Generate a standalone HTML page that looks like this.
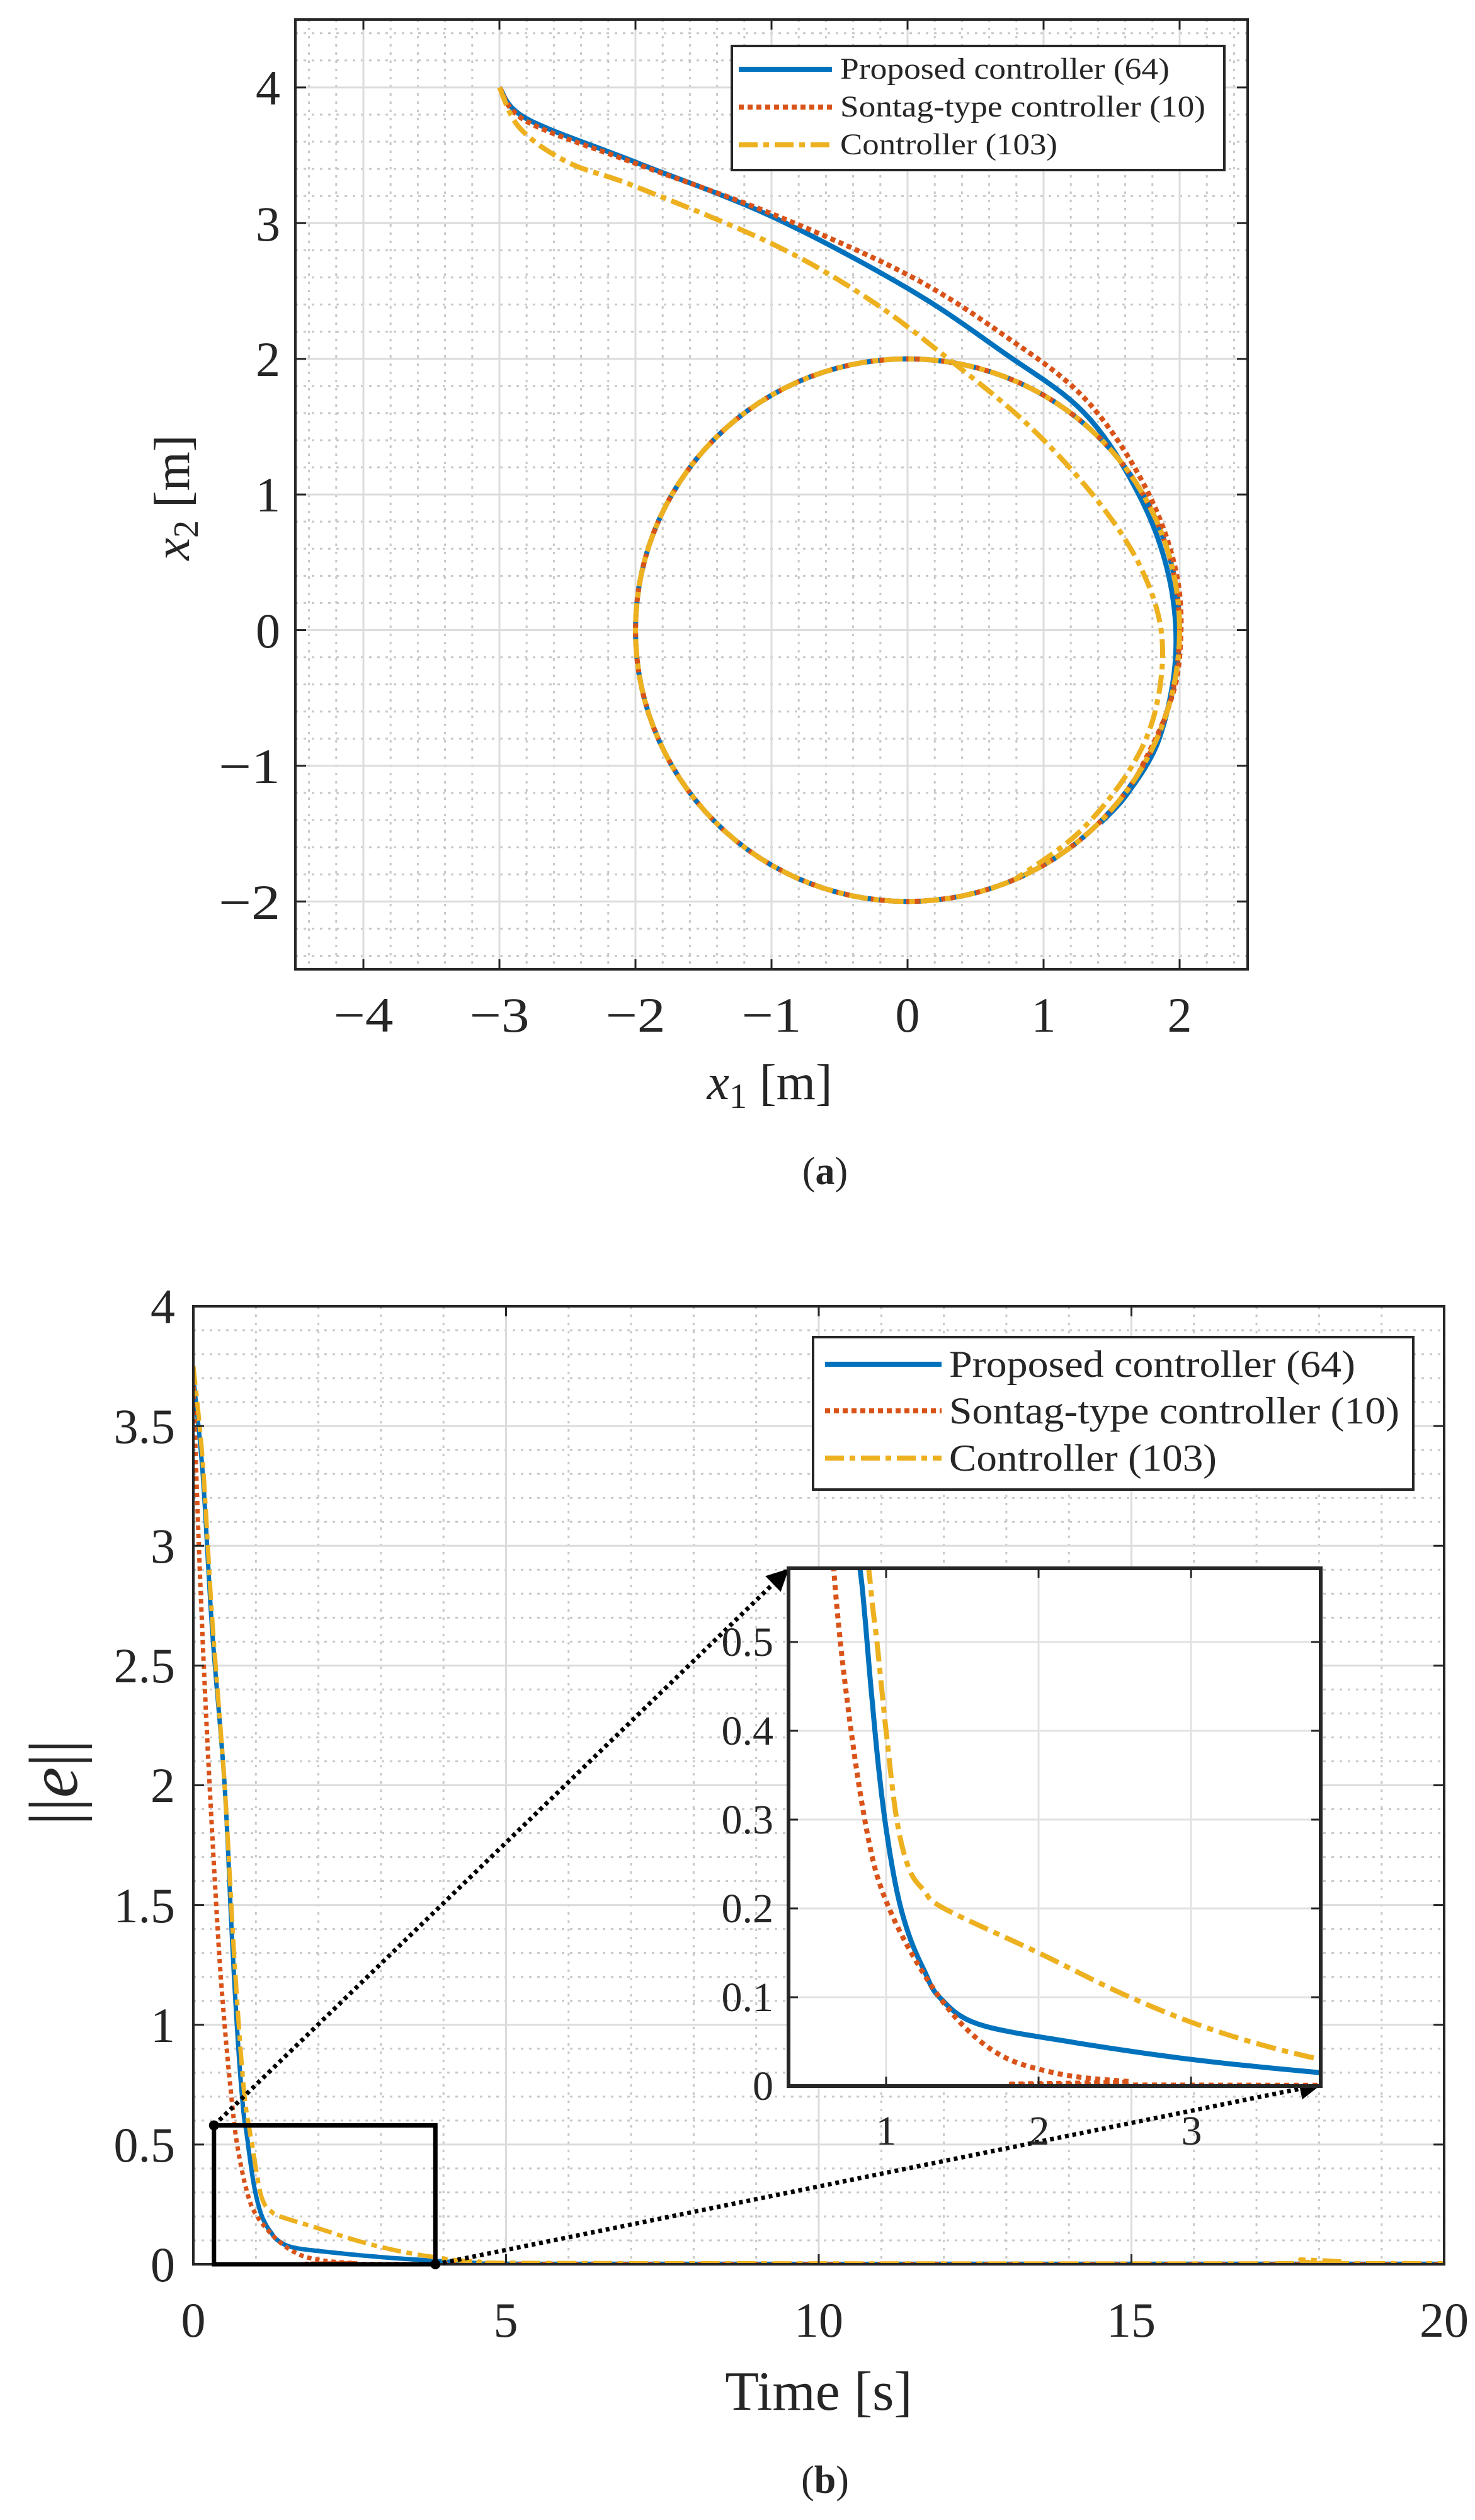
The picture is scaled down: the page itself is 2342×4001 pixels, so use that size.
<!DOCTYPE html>
<html><head><meta charset="utf-8"><style>html,body{margin:0;padding:0;background:#fff}svg{display:block}text{font-family:"Liberation Serif",serif;fill:#262626}</style></head>
<body>
<svg id="s" xmlns="http://www.w3.org/2000/svg" width="2342" height="4001" viewBox="0 0 2342 4001">
<rect width="2342" height="4001" fill="#fff"/>
<g id="g1"></g>
<g id="g2"></g>
<g font-size="78" text-anchor="middle">
<text x="577" y="1638" textLength="95" lengthAdjust="spacingAndGlyphs">−4</text>
<text x="793" y="1638" textLength="95" lengthAdjust="spacingAndGlyphs">−3</text>
<text x="1009" y="1638" textLength="95" lengthAdjust="spacingAndGlyphs">−2</text>
<text x="1225" y="1638" textLength="95" lengthAdjust="spacingAndGlyphs">−1</text>
<text x="1441" y="1638">0</text><text x="1657" y="1638">1</text><text x="1873" y="1638">2</text>
</g>
<g font-size="78" text-anchor="end">
<text x="445" y="166">4</text><text x="445" y="382">3</text><text x="445" y="597">2</text><text x="445" y="812">1</text><text x="445" y="1028">0</text>
<text x="445" y="1243" textLength="98" lengthAdjust="spacingAndGlyphs">−1</text>
<text x="445" y="1459" textLength="98" lengthAdjust="spacingAndGlyphs">−2</text>
</g>
<text x="1222" y="1745" font-size="80" text-anchor="middle" font-style="italic">x<tspan font-style="normal" font-size="56" dy="14">1</tspan><tspan font-style="normal" dy="-14"> [m]</tspan></text>
<text transform="translate(300,790) rotate(-90)" font-size="80" text-anchor="middle" font-style="italic">x<tspan font-style="normal" font-size="56" dy="14">2</tspan><tspan font-style="normal" dy="-14"> [m]</tspan></text>
<text x="1310" y="1880" font-size="62" text-anchor="middle">(<tspan font-weight="bold">a</tspan>)</text>
<g font-size="78" text-anchor="middle">
<text x="307" y="3710">0</text><text x="803" y="3710">5</text><text x="1300" y="3710">10</text><text x="1796" y="3710">15</text><text x="2293" y="3710">20</text>
</g>
<g font-size="78" text-anchor="end">
<text x="278" y="3622">0</text><text x="278" y="3432">0.5</text><text x="278" y="3242">1</text><text x="278" y="3052">1.5</text><text x="278" y="2861">2</text><text x="278" y="2671">2.5</text><text x="278" y="2481">3</text><text x="278" y="2291">3.5</text><text x="278" y="2101">4</text>
</g>
<text x="1300" y="3826" font-size="88" text-anchor="middle">Time [s]</text>
<text transform="translate(122,2830) rotate(-90)" font-size="110" text-anchor="middle">||<tspan font-style="italic">e</tspan>||</text>
<text x="1310" y="3958" font-size="62" text-anchor="middle">(<tspan font-weight="bold">b</tspan>)</text>
<g font-size="66" text-anchor="end">
<text x="1228" y="3334">0</text><text x="1228" y="3193">0.1</text><text x="1228" y="3052">0.2</text><text x="1228" y="2911">0.3</text><text x="1228" y="2770">0.4</text><text x="1228" y="2629">0.5</text>
</g>
<g font-size="66" text-anchor="middle">
<text x="1407" y="3405">1</text><text x="1650" y="3405">2</text><text x="1892" y="3405">3</text>
</g>
<g>
<rect x="1162" y="73" width="782" height="197" fill="#fff" stroke="#262626" stroke-width="4"/>
<line x1="1173" y1="110" x2="1321" y2="110" stroke="#0072bd" stroke-width="8"/>
<line x1="1173" y1="170" x2="1321" y2="170" stroke="#d95319" stroke-width="8" stroke-dasharray="8,6"/>
<line x1="1173" y1="230" x2="1321" y2="230" stroke="#edb120" stroke-width="8" stroke-dasharray="30,9,9,9"/>
<g font-size="48"><text x="1334" y="125" textLength="523" lengthAdjust="spacingAndGlyphs">Proposed controller (64)</text>
<text x="1334" y="185" textLength="580" lengthAdjust="spacingAndGlyphs">Sontag-type controller (10)</text>
<text x="1334" y="245" textLength="345" lengthAdjust="spacingAndGlyphs">Controller (103)</text></g>
</g>
<g>
<rect x="1291" y="2123" width="953" height="242" fill="#fff" stroke="#262626" stroke-width="4"/>
<line x1="1310" y1="2166" x2="1495" y2="2166" stroke="#0072bd" stroke-width="8"/>
<line x1="1310" y1="2240" x2="1495" y2="2240" stroke="#d95319" stroke-width="8" stroke-dasharray="8,6"/>
<line x1="1310" y1="2315" x2="1495" y2="2315" stroke="#edb120" stroke-width="8" stroke-dasharray="30,9,9,9"/>
<g font-size="60"><text x="1507" y="2186" textLength="645" lengthAdjust="spacingAndGlyphs">Proposed controller (64)</text>
<text x="1507" y="2260" textLength="715" lengthAdjust="spacingAndGlyphs">Sontag-type controller (10)</text>
<text x="1507" y="2335" textLength="425" lengthAdjust="spacingAndGlyphs">Controller (103)</text></g>
</g>
</svg>
<script>
(function(){
var NS="http://www.w3.org/2000/svg";
function el(p,t,a){var e=document.createElementNS(NS,t);for(var k in a)e.setAttribute(k,a[k]);p.appendChild(e);return e;}
function cr(pts,n){var o=[];for(var i=0;i<pts.length-1;i++){var p0=pts[Math.max(0,i-1)],p1=pts[i],p2=pts[i+1],p3=pts[Math.min(pts.length-1,i+2)];for(var j=0;j<n;j++){var t=j/n,t2=t*t,t3=t2*t;o.push([0.5*((2*p1[0])+(-p0[0]+p2[0])*t+(2*p0[0]-5*p1[0]+4*p2[0]-p3[0])*t2+(-p0[0]+3*p1[0]-3*p2[0]+p3[0])*t3),0.5*((2*p1[1])+(-p0[1]+p2[1])*t+(2*p0[1]-5*p1[1]+4*p2[1]-p3[1])*t2+(-p0[1]+3*p1[1]-3*p2[1]+p3[1])*t3)]);}}o.push(pts[pts.length-1]);return o;}
function path(pts,X,Y){return "M"+pts.map(function(p){return X(p[0]).toFixed(1)+","+Y(p[1]).toFixed(1)}).join("L");}
var s=document.getElementById("s");
var defs=el(s,"defs",{});
var TT=31,TB=1539,BT=2074,BB=3595,IT=2490,IB=3312;
var c1=el(defs,"clipPath",{id:"c1"});el(c1,"rect",{x:469,y:TT,width:1512,height:TB-TT});
var c2=el(defs,"clipPath",{id:"c2"});el(c2,"rect",{x:307,y:BT,width:1986,height:BB-BT});
var c3=el(defs,"clipPath",{id:"c3"});el(c3,"rect",{x:1252,y:IT,width:845,height:IB-IT});
var mk=el(defs,"marker",{id:"ar",viewBox:"0 0 10 10",refX:"9",refY:"5",markerWidth:"5",markerHeight:"5",orient:"auto"});el(mk,"path",{d:"M0,0L10,5L0,10z",fill:"#000"});
var BL="#0072bd",RD="#d95319",YL="#edb120";
var g=document.getElementById("g1");
var X=function(v){return 469+(v+4.5)*216},Y=function(v){return TB-(v+2.5)*215.4};
el(g,"rect",{x:469,y:TT,width:1512,height:TB-TT,fill:"#fff"});
for(var v=-4.4;v<2.5;v+=0.2){var r=Math.round(v*10)/10;if(Math.abs(r-Math.round(r))<1e-6)continue;el(g,"line",{x1:X(r),x2:X(r),y1:TT,y2:TB,stroke:"#c8c8c8","stroke-width":3,"stroke-dasharray":"4,9"});}
for(var v=-2.4;v<4.5;v+=0.2){var r=Math.round(v*10)/10;if(Math.abs(r-Math.round(r))<1e-6)continue;el(g,"line",{y1:Y(r),y2:Y(r),x1:469,x2:1981,stroke:"#c8c8c8","stroke-width":3,"stroke-dasharray":"4,9"});}
for(var v=-4;v<=2;v++)el(g,"line",{x1:X(v),x2:X(v),y1:TT,y2:TB,stroke:"#dcdcdc","stroke-width":3});
for(var v=-2;v<=4;v++)el(g,"line",{y1:Y(v),y2:Y(v),x1:469,x2:1981,stroke:"#dcdcdc","stroke-width":3});
var circ=[];for(var a=0;a<=360;a+=3){var t=a*Math.PI/180;circ.push([2*Math.cos(-t),2*Math.sin(-t)]);}
var blue=cr([[-3,4],[-2.8,3.77],[-2,3.45],[-1,3.05],[0,2.52],[0.7,2.05],[1.3,1.6],[1.7,1.0],[1.92,0.4],[1.97,-0.2],[1.85,-0.8],[1.62,-1.2],[1.42,-1.42]],10);
var red=cr([[-3,4],[-2.8,3.75],[-2,3.44],[-1,3.07],[0,2.62],[0.7,2.18],[1.31,1.70],[1.75,1.05],[1.98,0.4],[2.0,-0.2],[1.9,-0.62],[1.7,-1.05]],10);
var yel=cr([[-3,4],[-2.85,3.7],[-2.5,3.45],[-2,3.27],[-1,2.85],[-0.3,2.45],[0.3,2.0],[0.9,1.5],[1.4,0.95],[1.72,0.45],[1.87,-0.05],[1.82,-0.6],[1.62,-1.05],[1.25,-1.5],[0.8,-1.83]],10);
function addTop(d,col,da){el(g,"path",{d:d,fill:"none",stroke:col,"stroke-width":8,"stroke-dasharray":da||"none","clip-path":"url(#c1)","stroke-linejoin":"round"});}
var circD=path(circ,X,Y);
addTop(path(blue,X,Y),BL);addTop(circD,BL);
addTop(path(red,X,Y),RD,"8,6");addTop(circD,RD,"8,6");
addTop(path(yel,X,Y),YL,"30,9,9,9");addTop(circD,YL,"30,9,9,9");
el(g,"rect",{x:469,y:TT,width:1512,height:TB-TT,fill:"none",stroke:"#262626","stroke-width":4});
for(var v=-4;v<=2;v++){el(g,"line",{x1:X(v),x2:X(v),y1:TB,y2:TB-16,stroke:"#262626","stroke-width":3});el(g,"line",{x1:X(v),x2:X(v),y1:TT,y2:TT+16,stroke:"#262626","stroke-width":3});}
for(var v=-2;v<=4;v++){el(g,"line",{y1:Y(v),y2:Y(v),x1:469,x2:486,stroke:"#262626","stroke-width":3});el(g,"line",{y1:Y(v),y2:Y(v),x1:1981,x2:1964,stroke:"#262626","stroke-width":3});}
g=document.getElementById("g2");
var X2=function(v){return 307+v*99.3},Y2=function(v){return BB-v*380.25};
el(g,"rect",{x:307,y:BT,width:1986,height:BB-BT,fill:"#fff"});
for(var v=1;v<20;v++){if(v%5==0)continue;el(g,"line",{x1:X2(v),x2:X2(v),y1:BT,y2:BB,stroke:"#c8c8c8","stroke-width":3,"stroke-dasharray":"4,9"});}
for(var v=1;v<40;v++){if(v%5==0)continue;el(g,"line",{y1:Y2(v/10),y2:Y2(v/10),x1:307,x2:2293,stroke:"#c8c8c8","stroke-width":3,"stroke-dasharray":"4,9"});}
for(var v=5;v<20;v+=5)el(g,"line",{x1:X2(v),x2:X2(v),y1:BT,y2:BB,stroke:"#dcdcdc","stroke-width":3});
for(var v=0.5;v<4;v+=0.5)el(g,"line",{y1:Y2(v),y2:Y2(v),x1:307,x2:2293,stroke:"#dcdcdc","stroke-width":3});
var bB=cr([[0,3.7],[0.15,3.3],[0.3,2.65],[0.5,2.0],[0.62,1.35],[0.72,0.9],[0.8,0.64],[0.85,0.55],[0.9,0.45],[0.95,0.36],[1.0,0.29],[1.07,0.22],[1.15,0.17],[1.25,0.13],[1.35,0.1],[1.6,0.07],[2.2,0.05],[3,0.03],[3.85,0.015],[4.5,0.006],[6,0.002],[20,0.002]],12);
var bR=cr([[0,3.7],[0.06,3.2],[0.15,2.6],[0.26,2.0],[0.4,1.35],[0.5,1.0],[0.6,0.72],[0.7,0.5],[0.86,0.3],[1.02,0.2],[1.35,0.1],[1.7,0.04],[2.1,0.015],[2.6,0.005],[3.2,0.001],[20,0]],12);
var bY=cr([[0,3.75],[0.15,3.35],[0.3,2.7],[0.5,2.0],[0.65,1.3],[0.8,0.75],[0.9,0.56],[0.94,0.5],[1.0,0.4],[1.07,0.3],[1.15,0.245],[1.25,0.22],[1.38,0.2],[2.0,0.15],[2.6,0.1],[3.2,0.06],[3.85,0.03],[4.5,0.012],[6,0.005],[17.5,0.004],[17.7,0.02],[18,0.006],[20,0.004]],12);
function addB(pts,col,da){el(g,"path",{d:path(pts,X2,Y2),fill:"none",stroke:col,"stroke-width":7,"stroke-dasharray":da||"none","clip-path":"url(#c2)","stroke-linejoin":"round"});}
addB(bB,BL);addB(bR,RD,"7,6");addB(bY,YL,"30,9,9,9");
el(g,"rect",{x:307,y:BT,width:1986,height:BB-BT,fill:"none",stroke:"#262626","stroke-width":4});
for(var v=0;v<=20;v+=5){el(g,"line",{x1:X2(v),x2:X2(v),y1:BB,y2:BB-16,stroke:"#262626","stroke-width":3});el(g,"line",{x1:X2(v),x2:X2(v),y1:BT,y2:BT+16,stroke:"#262626","stroke-width":3});}
for(var v=0;v<=4;v+=0.5){el(g,"line",{y1:Y2(v),y2:Y2(v),x1:307,x2:324,stroke:"#262626","stroke-width":3});el(g,"line",{y1:Y2(v),y2:Y2(v),x1:2293,x2:2276,stroke:"#262626","stroke-width":3});}
el(g,"rect",{x:X2(0.33),y:Y2(0.58),width:X2(3.87)-X2(0.33),height:Y2(0)-Y2(0.58),fill:"none",stroke:"#000","stroke-width":7});
el(g,"line",{x1:X2(0.33),y1:Y2(0.58),x2:1250,y2:IT+3,stroke:"#000","stroke-width":7,"stroke-dasharray":"6,6","marker-end":"url(#ar)"});
el(g,"line",{x1:X2(3.87),y1:Y2(0),x2:2095,y2:IB-2,stroke:"#000","stroke-width":7,"stroke-dasharray":"6,6","marker-end":"url(#ar)"});
el(g,"circle",{cx:X2(0.33),cy:Y2(0.58),r:8,fill:"#000"});el(g,"circle",{cx:X2(3.87),cy:Y2(0),r:8,fill:"#000"});
var X3=function(v){return 1252+(v-0.36)*242.1},Y3=function(v){return IB-v*1410};
el(g,"rect",{x:1252,y:IT,width:845,height:IB-IT,fill:"#fff"});
for(var v=1;v<=3;v++)el(g,"line",{x1:X3(v),x2:X3(v),y1:IT,y2:IB,stroke:"#e2e2e2","stroke-width":3});
for(var v=1;v<=5;v++)el(g,"line",{y1:Y3(v/10),y2:Y3(v/10),x1:1252,x2:2097,stroke:"#e2e2e2","stroke-width":3});
function addI(pts,col,da){el(g,"path",{d:path(pts,X3,Y3),fill:"none",stroke:col,"stroke-width":8,"stroke-dasharray":da||"none","clip-path":"url(#c3)","stroke-linejoin":"round"});}
addI(bB,BL);addI(bR,RD,"8,7");addI(bY,YL,"32,10,10,10");
el(g,"rect",{x:1252,y:IT,width:845,height:IB-IT,fill:"none",stroke:"#262626","stroke-width":6});
for(var v=1;v<=3;v++){el(g,"line",{x1:X3(v),x2:X3(v),y1:IB,y2:IB-15,stroke:"#262626","stroke-width":3});el(g,"line",{x1:X3(v),x2:X3(v),y1:IT,y2:IT+15,stroke:"#262626","stroke-width":3});}
for(var v=0;v<=5;v++){el(g,"line",{y1:Y3(v/10),y2:Y3(v/10),x1:1252,x2:1267,stroke:"#262626","stroke-width":3});el(g,"line",{y1:Y3(v/10),y2:Y3(v/10),x1:2097,x2:2082,stroke:"#262626","stroke-width":3});}
})();
</script>
</body></html>
